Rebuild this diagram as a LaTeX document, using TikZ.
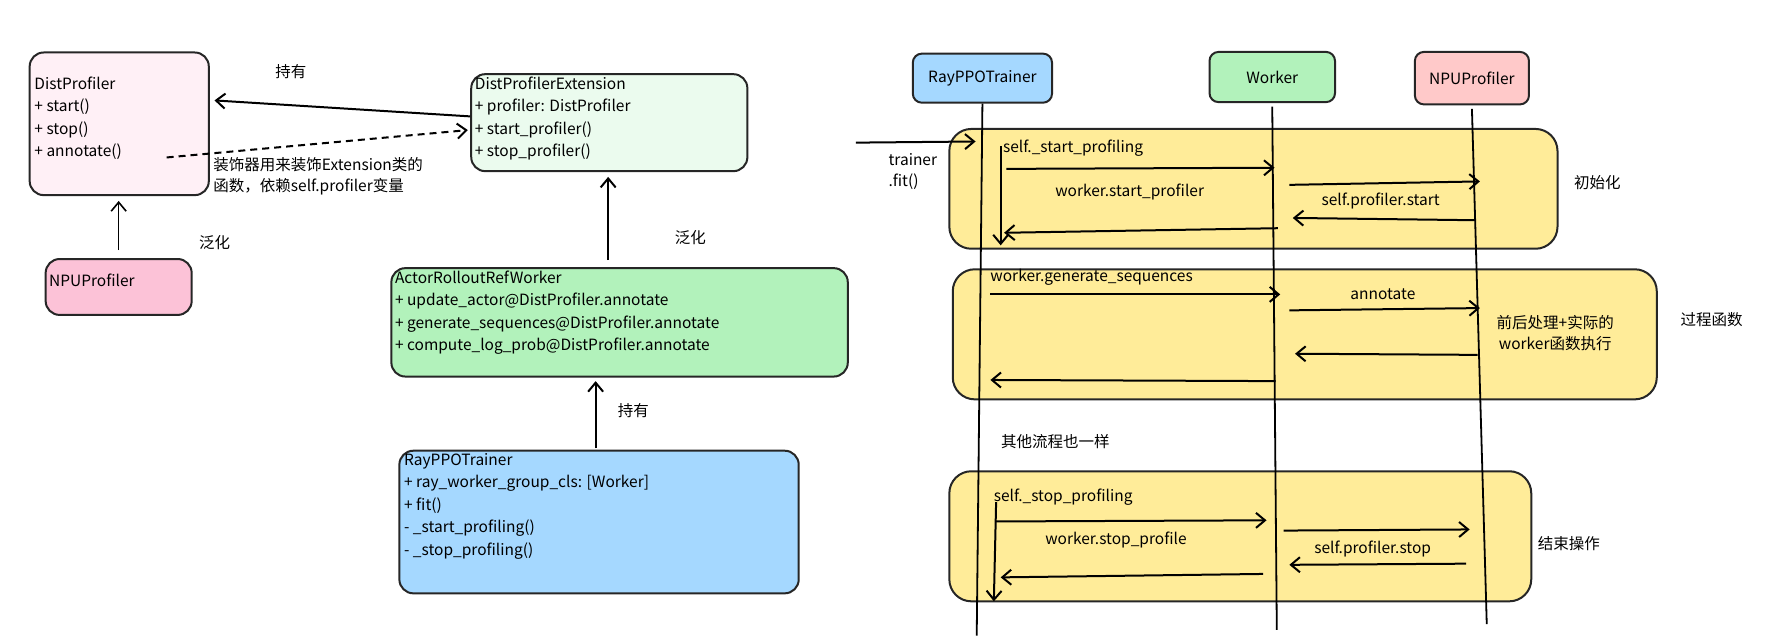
\documentclass[tikz,border=0pt]{standalone}
\usepackage{fontspec}
\setmainfont{Noto Sans CJK SC}
\usetikzlibrary{arrows.meta}
\definecolor{cblue}{HTML}{A5D8FF}
\definecolor{cgreen}{HTML}{B2F2BB}
\definecolor{cred}{HTML}{FFC9C9}
\definecolor{cpink}{HTML}{FCC2D7}
\definecolor{cpinkl}{HTML}{FFF0F6}
\definecolor{cgreenl}{HTML}{EBFBEE}
\definecolor{cyel}{HTML}{FFEC99}
\begin{document}
\begin{tikzpicture}[x=1.141pt,y=-1.141pt,
  box/.style={draw=black!85,line width=2pt,rounded corners=14pt,inner sep=0pt},
  txt/.style={font=\fontsize{15.5}{22.5}\selectfont,align=left,anchor=north west,inner sep=0pt},
  lbl/.style={font=\fontsize{15.5}{21}\selectfont,inner sep=1pt},
  ar/.style={line width=2pt,-{Straight Barb[length=9pt,width=15pt]}},
  life/.style={line width=1.8pt},
  phase/.style={draw=black!85,line width=2pt,fill=cyel,rounded corners=22pt}]
\useasboundingbox (0,0) rectangle (1560,563);
% left class diagram
\node[box,fill=cpinkl,minimum width=157*1.141pt,minimum height=125*1.141pt] (dp) at (104.5,108.5) {};
\node[txt] (dpt) at (30,67) {DistProfiler\\+ start()\\+ stop()\\+ annotate()};
\node[box,fill=cpink,minimum width=128*1.141pt,minimum height=49*1.141pt] (npu) at (104,251.5) {};
\node[lbl,anchor=west] (npt) at (42,246) {NPUProfiler};
\node[box,fill=cgreenl,minimum width=242*1.141pt,minimum height=85*1.141pt] (ext) at (534,107.5) {};
\node[txt] (extt) at (416,67) {DistProfilerExtension\\+ profiler: DistProfiler\\+ start\_profiler()\\+ stop\_profiler()};
\node[box,fill=cgreen,minimum width=400*1.141pt,minimum height=95*1.141pt] (act) at (543,282.5) {};
\node[txt] (actt) at (346,237) {ActorRolloutRefWorker\\+ update\_actor@DistProfiler.annotate\\+ generate\_sequences@DistProfiler.annotate\\+ compute\_log\_prob@DistProfiler.annotate};
\node[box,fill=cblue,minimum width=350*1.141pt,minimum height=125*1.141pt] (rpt) at (525,457.5) {};
\node[txt] (rptt) at (354,397) {RayPPOTrainer\\+ ray\_worker\_group\_cls: [Worker]\\+ fit()\\- \_start\_profiling()\\- \_stop\_profiling()};
\coordinate (c1) at (412,102); \coordinate (c2) at (188,88);
\draw[ar] (c1) -- (c2);
\node[lbl] (l1) at (255,63) {持有};
\coordinate (c3) at (146,138); \coordinate (c4) at (410,114);
\draw[ar,dash pattern=on 7pt off 5pt] (c3) -- (c4);
\node[lbl,anchor=north west,align=left] (l2) at (186,137) {装饰器用来装饰Extension类的\\函数，依赖self.profiler变量};
\draw[ar,line width=1.6pt] (npu.north) ++(0,-7) coordinate (c5) -- ++(0,-43) coordinate (c6);
\node[lbl] (l3) at (188,213) {泛化};
\draw[ar] (533,228) coordinate (c7) -- (533,155) coordinate (c8);
\node[lbl] (l4) at (605,208) {泛化};
\draw[ar] (522,393) coordinate (c9) -- (522,334) coordinate (c10);
\node[lbl] (l5) at (555,360) {持有};
% sequence
\node[phase,minimum width=533*1.141pt,minimum height=105*1.141pt] (p1) at (1098.5,165.5) {};
\node[phase,minimum width=617*1.141pt,minimum height=114*1.141pt] (p2) at (1143.5,293) {};
\node[phase,minimum width=510*1.141pt,minimum height=114*1.141pt] (p3) at (1087,470) {};
\node[box,rounded corners=9pt,fill=cblue,minimum width=122*1.141pt,minimum height=43*1.141pt,font=\fontsize{15.5}{18}\selectfont] (h1) at (861,68.5) {RayPPOTrainer};
\node[box,rounded corners=9pt,fill=cgreen,minimum width=110*1.141pt,minimum height=44*1.141pt,font=\fontsize{15.5}{18}\selectfont] (h2) at (1115,67.5) {Worker};
\node[box,rounded corners=9pt,fill=cred,minimum width=100*1.141pt,minimum height=46*1.141pt,font=\fontsize{15.5}{18}\selectfont] (h3) at (1290,68.5) {NPUProfiler};
\coordinate (e1) at (856,557); \coordinate (e2) at (1119,552); \coordinate (e3) at (1303,547);
\draw[life] (h1.south) -- (e1);
\draw[life] (h2.south) ++(0,3) -- (e2);
\draw[life] (h3.south) ++(0,3) -- (e3);
\node[lbl] (t1) at (1400,160) {初始化};
\node[lbl] (t2) at (1500,280) {过程函数};
\node[lbl] (t3) at (1375,476) {结束操作};
\node[lbl] (t4) at (925,387) {其他流程也一样};
\node[lbl,align=left] (t5) at (800,150) {trainer\\.fit()};
\coordinate (in0) at (750,125); \coordinate (in1) at (855,124);
\draw[ar] (in0) -- (in1);
% box1
\node[lbl,anchor=west] (s1) at (878,130) {self.\_start\_profiling};
\draw[ar] (877,128) -- (877,215);
\draw[ar] (882,148) -- (1117,147);
\node[lbl] (s2) at (990,168) {worker.start\_profiler};
\draw[ar] (1130,162) -- (1297,159);
\node[lbl] (s3) at (1210,176) {self.profiler.start};
\draw[ar] (1293,193) -- (1133,191);
\draw[ar] (1120,200) -- (880,204);
% box2
\node[lbl,anchor=west] (g1) at (867,243) {worker.generate\_sequences};
\draw[ar] (868,258) -- (1122,258);
\node[lbl] (g2) at (1212,258) {annotate};
\draw[ar] (1130,272) -- (1297,270);
\draw[ar] (1295,311) -- (1135,310);
\draw[ar] (1118,334) -- (868,333);
\node[lbl,align=center] (g3) at (1363,292) {前后处理+实际的\\worker函数执行};
% box3
\node[lbl,anchor=west] (x1) at (870,436) {self.\_stop\_profiling};
\draw[ar] (873,440) -- (871,527);
\draw[ar] (873,457) -- (1110,456);
\node[lbl] (x2) at (978,473) {worker.stop\_profile};
\draw[ar] (1125,465) -- (1288,464);
\node[lbl] (x3) at (1203,481) {self.profiler.stop};
\draw[ar] (1285,494) -- (1130,495);
\draw[ar] (1107,503) -- (877,506);
\end{tikzpicture}
\end{document}
